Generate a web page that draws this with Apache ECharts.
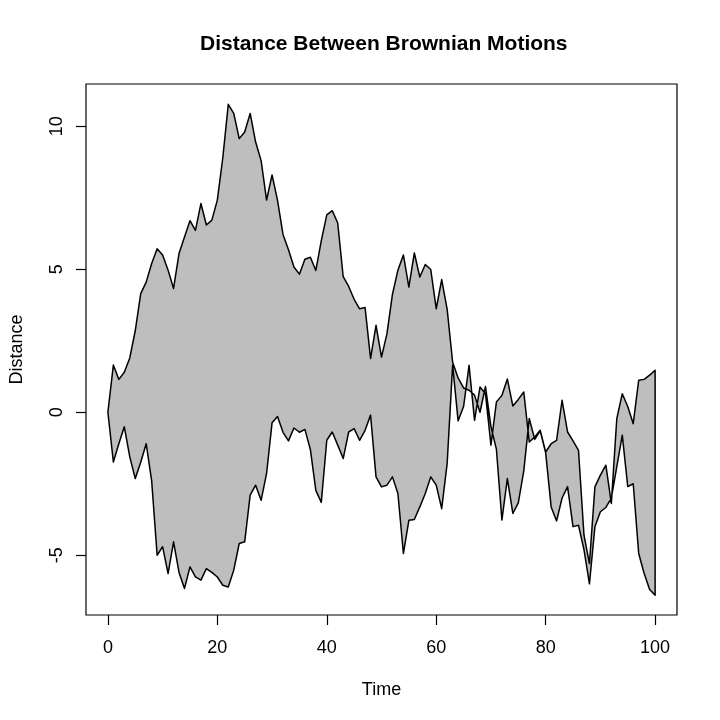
<!DOCTYPE html>
<html>
<head>
<meta charset="utf-8">
<title>Distance Between Brownian Motions</title>
<script src="https://cdn.jsdelivr.net/npm/echarts@6/dist/echarts.min.js"></script>
<style>
  html, body { margin: 0; padding: 0; background: #ffffff; }
  #chart { width: 720px; height: 720px; }
</style>
</head>
<body>
<div id="chart"></div>
<script>
// time steps 0..100
const timeSteps = [0, 1, 2, 3, 4, 5, 6, 7, 8, 9, 10, 11, 12, 13, 14, 15, 16, 17, 18, 19, 20,
  21, 22, 23, 24, 25, 26, 27, 28, 29, 30, 31, 32, 33, 34, 35, 36, 37, 38, 39, 40,
  41, 42, 43, 44, 45, 46, 47, 48, 49, 50, 51, 52, 53, 54, 55, 56, 57, 58, 59, 60,
  61, 62, 63, 64, 65, 66, 67, 68, 69, 70, 71, 72, 73, 74, 75, 76, 77, 78, 79, 80,
  81, 82, 83, 84, 85, 86, 87, 88, 89, 90, 91, 92, 93, 94, 95, 96, 97, 98, 99, 100]

// first motion (starts as the upper edge)
const motionA = [0, 1.65, 1.15, 1.4, 1.9, 2.85, 4.15, 4.55, 5.2, 5.72,
  5.5, 4.97, 4.33, 5.55, 6.13, 6.7, 6.36, 7.3, 6.55, 6.72,
  7.42, 8.9, 10.77, 10.45, 9.57, 9.8, 10.45, 9.45, 8.8, 7.42,
  8.3, 7.41, 6.22, 5.68, 5.08, 4.83, 5.35, 5.42, 4.96, 6.0,
  6.9, 7.05, 6.62, 4.74, 4.4, 3.95, 3.62, 3.66, 1.88, 3.04,
  1.93, 2.75, 4.12, 4.97, 5.5, 4.38, 5.57, 4.73, 5.17, 4.99,
  3.62, 4.64, 3.6, 1.75, 1.2, 0.85, 0.77, 0.6, 0.0, 0.9,
  -0.5, -1.3, -3.77, -2.32, -3.54, -3.17, -2.05, -0.22, -0.95, -0.65,
  -1.42, -3.31, -3.8, -3.0, -2.6, -4.0, -3.95, -4.8, -6.0, -4.0,
  -3.48, -3.33, -3.0, -1.9, -0.8, -2.6, -2.5, -4.94, -5.64, -6.2,
  -6.4]

// second motion (starts as the lower edge)
const motionB = [0, -1.74, -1.1, -0.51, -1.56, -2.32, -1.75, -1.1, -2.4, -5.0,
  -4.7, -5.64, -4.53, -5.6, -6.16, -5.41, -5.76, -5.87, -5.47, -5.6,
  -5.76, -6.05, -6.11, -5.52, -4.59, -4.53, -2.9, -2.55, -3.08, -2.14,
  -0.37, -0.15, -0.7, -1.0, -0.55, -0.7, -0.6, -1.3, -2.73, -3.15,
  -0.98, -0.69, -1.15, -1.62, -0.69, -0.57, -0.98, -0.63, -0.1, -2.26,
  -2.61, -2.55, -2.26, -2.84, -4.94, -3.78, -3.75, -3.31, -2.84, -2.26,
  -2.55, -3.37, -1.79, 1.65, -0.3, 0.2, 1.64, -0.28, 0.88, 0.65,
  -1.15, 0.36, 0.59, 1.16, 0.22, 0.45, 0.71, -1.04, -0.86, -0.63,
  -1.39, -1.1, -0.98, 0.42, -0.69, -1.0, -1.33, -4.3, -5.29, -2.61,
  -2.2, -1.85, -3.19, -0.22, 0.65, 0.2, -0.4, 1.12, 1.15, 1.3,
  1.47]

const xTicks = [0, 20, 40, 60, 80, 100]
const yTicks = [-5, 0, 5, 10]

const fontFamily = '"Liberation Sans", Arial, Helvetica, sans-serif'

const chart = echarts.init(document.getElementById('chart'))

// closed outline: motionA forward, then motionB backward
const buildPolygon = (api) => {
  const points = []
  timeSteps.forEach((t, i) => {
    points.push(api.coord([t, motionA[i]]))
  })
  for (let i = timeSteps.length - 1; i >= 0; i--) {
    points.push(api.coord([timeSteps[i], motionB[i]]))
  }
  return points
}

const axisText = { color: '#000', fontFamily: fontFamily, fontSize: 18 }

chart.setOption({
  backgroundColor: '#ffffff',
  animation: false,
  title: {
    text: 'Distance Between Brownian Motions',
    left: 195,
    top: 29,
    textStyle: { color: '#000', fontFamily: fontFamily, fontWeight: 'bold', fontSize: 21 }
  },
  grid: {
    left: 84,
    right: 43,
    top: 84,
    bottom: 105,
    show: true,
    borderColor: '#000',
    borderWidth: 1.2
  },
  xAxis: {
    type: 'value',
    min: -4,
    max: 104,
    name: 'Time',
    nameLocation: 'middle',
    nameGap: 66,
    nameTextStyle: axisText,
    axisLine: { show: false, onZero: false },
    splitLine: { show: false },
    axisTick: {
      show: true,
      length: 10,
      customValues: xTicks,
      lineStyle: { color: '#000', width: 1.2 }
    },
    axisLabel: { customValues: xTicks, margin: 24, ...axisText }
  },
  yAxis: {
    type: 'value',
    min: -7.09,
    max: 11.48,
    name: 'Distance',
    nameLocation: 'middle',
    nameGap: 60,
    nameTextStyle: axisText,
    axisLine: { show: false, onZero: false },
    splitLine: { show: false },
    axisTick: {
      show: true,
      length: 10,
      customValues: yTicks,
      lineStyle: { color: '#000', width: 1.2 }
    },
    axisLabel: { customValues: yTicks, rotate: 90, margin: 20, ...axisText }
  },
  series: [
    {
      type: 'custom',
      silent: true,
      clip: false,
      data: [[0, 0]],
      renderItem: (params, api) => ({
        type: 'polygon',
        shape: { points: buildPolygon(api) },
        style: { fill: '#bebebe', stroke: '#000', lineWidth: 1.5, lineJoin: 'round' }
      })
    }
  ]
})
</script>
</body>
</html>
